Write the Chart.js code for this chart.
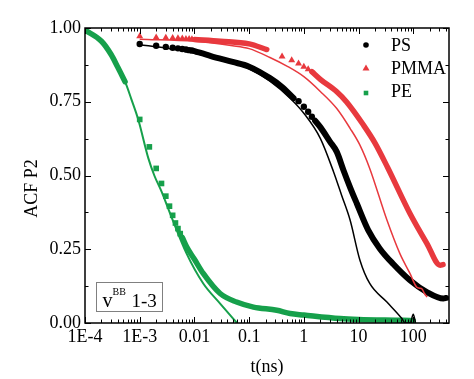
<!DOCTYPE html>
<html><head><meta charset="utf-8">
<script src="https://cdn.jsdelivr.net/npm/chart.js@4/dist/chart.umd.min.js"></script>
<style>html,body{margin:0;padding:0;background:#fff;}canvas{display:block;}</style>
</head><body>
<canvas id="c" width="474" height="379"></canvas>
<script>
// ---------- data ----------
const SERIES = ['PS', 'PMMA', 'PE'];
const X_TICKS = [1e-4, 1e-3, 0.01, 0.1, 1, 10, 100];
const X_TICK_LABELS = ['1E-4', '1E-3', '0.01', '0.1', '1', '10', '100'];
const Y_TICKS = [0, 0.25, 0.5, 0.75, 1];
const Y_TICK_LABELS = ['0.00', '0.25', '0.50', '0.75', '1.00'];
const X_TITLE = 't(ns)';
const Y_TITLE = 'ACF P2';
const INSET_MAIN = 'v';
const INSET_SUP = 'BB';
const INSET_TAIL = '1-3';

// PS (black circles): isolated markers + dense runs + fit
const PS_DOT_T = [0.001, 0.002, 0.003, 0.004, 0.005, 0.006, 0.007, 0.008, 0.009, 0.8, 1.0, 1.2, 1.4];
const PS_DOT_Y = [0.946, 0.940, 0.936, 0.933, 0.931, 0.929, 0.927, 0.925, 0.924, 0.752, 0.733, 0.716, 0.699];
const PS_RUN1_T = [0.01, 0.02, 0.05, 0.1, 0.24, 0.4, 0.65];
const PS_RUN1_Y = [0.922, 0.905, 0.885, 0.869, 0.830, 0.800, 0.762];
const PS_RUN2_T = [1.6, 2, 3, 4, 5.3, 7, 9.3, 15, 24.5, 43, 87, 177, 355, 400];
const PS_RUN2_Y = [0.686, 0.664, 0.615, 0.580, 0.518, 0.460, 0.405, 0.315, 0.252, 0.200, 0.145, 0.105, 0.083, 0.085];
const PS_FIT_T = [0.001, 0.003, 0.01, 0.03, 0.1, 0.24, 0.56, 1, 2, 3.5, 4.9, 7, 10.6, 16, 33, 62, 71, 88, 100, 110];
const PS_FIT_Y = [0.943, 0.932, 0.914, 0.893, 0.862, 0.820, 0.762, 0.711, 0.626, 0.512, 0.433, 0.349, 0.213, 0.134, 0.071, 0.015, 0.0, 0.0, 0.03, 0.0];

// PMMA (red triangles)
const PMMA_DOT_T = [0.001, 0.002, 0.003, 0.004, 0.005, 0.006, 0.007, 0.008, 0.009, 0.4, 0.6, 0.8, 1.0, 1.2];
const PMMA_DOT_Y = [0.972, 0.968, 0.967, 0.966, 0.965, 0.964, 0.963, 0.963, 0.962, 0.903, 0.891, 0.880, 0.869, 0.860];
const PMMA_RUN1_T = [0.01, 0.03, 0.1, 0.21];
const PMMA_RUN1_Y = [0.961, 0.955, 0.946, 0.927];
const PMMA_RUN2_T = [1.4, 2, 4, 6, 12.3, 20, 34, 87, 177, 310, 350];
const PMMA_RUN2_Y = [0.852, 0.826, 0.784, 0.750, 0.671, 0.610, 0.527, 0.371, 0.270, 0.196, 0.198];
const PMMA_FIT_T = [0.001, 0.01, 0.05, 0.1, 0.24, 0.5, 1, 2, 4, 7, 10.6, 16, 33, 57, 87, 115, 130, 145, 160, 180];
const PMMA_FIT_Y = [0.962, 0.955, 0.940, 0.930, 0.900, 0.870, 0.835, 0.785, 0.727, 0.660, 0.603, 0.524, 0.349, 0.235, 0.168, 0.122, 0.118, 0.115, 0.100, 0.088];

// PE (green squares)
const PE_DOT_T = [0.001, 0.0015, 0.002, 0.0025, 0.003, 0.0035, 0.004, 0.0045, 0.005, 0.0055];
const PE_DOT_Y = [0.690, 0.597, 0.524, 0.473, 0.430, 0.396, 0.365, 0.339, 0.320, 0.303];
const PE_RUN1_T = [0.0001, 0.0002, 0.0003, 0.0004, 0.00054];
const PE_RUN1_Y = [0.993, 0.955, 0.910, 0.866, 0.818];
const PE_RUN2_T = [0.006, 0.0072, 0.01, 0.0145, 0.0295, 0.059, 0.12, 0.32, 0.56, 1, 4.6, 10, 64, 100];
const PE_RUN2_Y = [0.290, 0.258, 0.216, 0.168, 0.100, 0.071, 0.054, 0.043, 0.032, 0.027, 0.015, 0.012, 0.009, 0.008];
const PE_FIT_T = [0.0001, 0.0002, 0.0003, 0.0004, 0.00054, 0.0007, 0.00094, 0.00144, 0.00185, 0.0025, 0.0036, 0.0072, 0.0145, 0.0295, 0.051, 0.06];
const PE_FIT_Y = [0.993, 0.955, 0.910, 0.866, 0.818, 0.760, 0.690, 0.558, 0.500, 0.446, 0.371, 0.235, 0.134, 0.066, 0.015, 0.0];

// ---------- styling ----------
const BLACK = '#000000', RED = '#e8393e', GREEN = '#16a04b';
const FONT = "'Liberation Serif', 'Times New Roman', 'DejaVu Serif', serif";

const pts = (T, Y) => T.map((t, i) => ({ x: t, y: Y[i] }));
const runs = (T1, Y1, T2, Y2) => pts(T1, Y1).concat([{ x: T2[0], y: null }], pts(T2, Y2));

function markerSet(label, T, Y, color, style, r) {
  return { label, data: pts(T, Y), showLine: false, pointStyle: style, pointRadius: r,
    pointBackgroundColor: color, pointBorderColor: color, pointBorderWidth: 0, clip: 0, order: 2 };
}
function runSet(label, data, color, w) {
  return { label, data, showLine: true, borderColor: color, borderWidth: w, pointRadius: 0,
    borderCapStyle: 'round', cubicInterpolationMode: 'monotone', spanGaps: false, clip: 0, order: 3 };
}
function fitSet(label, T, Y, color, w) {
  return { label, data: pts(T, Y), showLine: true, borderColor: color, borderWidth: w, pointRadius: 0,
    cubicInterpolationMode: 'monotone', clip: 0, order: 1 };
}

const datasets = [
  runSet(SERIES[0] + ' data', runs(PS_RUN1_T, PS_RUN1_Y, PS_RUN2_T, PS_RUN2_Y), BLACK, 6),
  markerSet(SERIES[0], PS_DOT_T, PS_DOT_Y, BLACK, 'circle', 3.2),
  fitSet(SERIES[0] + ' fit', PS_FIT_T, PS_FIT_Y, BLACK, 1.5),
  runSet(SERIES[1] + ' data', runs(PMMA_RUN1_T, PMMA_RUN1_Y, PMMA_RUN2_T, PMMA_RUN2_Y), RED, 5.5),
  markerSet(SERIES[1], PMMA_DOT_T, PMMA_DOT_Y, RED, 'triangle', 4),
  fitSet(SERIES[1] + ' fit', PMMA_FIT_T, PMMA_FIT_Y, RED, 1.5),
  runSet(SERIES[2] + ' data', runs(PE_RUN1_T, PE_RUN1_Y, PE_RUN2_T, PE_RUN2_Y), GREEN, 5.5),
  markerSet(SERIES[2], PE_DOT_T, PE_DOT_Y, GREEN, 'rect', 4),
  fitSet(SERIES[2] + ' fit', PE_FIT_T, PE_FIT_Y, GREEN, 2)
];

// frame, inward ticks, legend, inset label, y title
const decor = {
  id: 'decor',
  afterDraw(chart) {
    const { ctx, chartArea: a, scales: { x, y } } = chart;
    ctx.save();
    ctx.strokeStyle = '#000';
    ctx.lineWidth = 1;
    ctx.beginPath();
    const MAJ = 6, MIN = 3.5;
    const yv = [];
    Y_TICKS.forEach((v, i) => { yv.push([v, MAJ]); if (i < Y_TICKS.length - 1) yv.push([(v + Y_TICKS[i + 1]) / 2, MIN]); });
    yv.forEach(([v, L]) => {
      const p = Math.round(y.getPixelForValue(v)) + 0.5;
      ctx.moveTo(a.left, p); ctx.lineTo(a.left + L, p);
      ctx.moveTo(a.right, p); ctx.lineTo(a.right - L, p);
    });
    const xv = [];
    X_TICKS.forEach(d => {
      xv.push([d, MAJ]);
      for (let k = 2; k <= 9; k++) if (d * k < x.max) xv.push([d * k, MIN]);
    });
    xv.forEach(([v, L]) => {
      const p = Math.round(x.getPixelForValue(v)) + 0.5;
      ctx.moveTo(p, a.bottom); ctx.lineTo(p, a.bottom - L);
      ctx.moveTo(p, a.top); ctx.lineTo(p, a.top + L);
    });
    ctx.stroke();
    ctx.lineWidth = 1.5;
    ctx.strokeRect(a.left, a.top, a.right - a.left, a.bottom - a.top);

    // legend
    const lx = a.right - 83, tx = a.right - 58;
    const rows = [a.top + 17, a.top + 40, a.top + 63];
    const cols = [BLACK, RED, GREEN];
    ctx.font = '18px ' + FONT;
    ctx.textBaseline = 'middle';
    ctx.textAlign = 'left';
    SERIES.forEach((s, i) => {
      const cy = rows[i];
      ctx.fillStyle = cols[i];
      ctx.beginPath();
      if (i === 0) { ctx.arc(lx, cy, 2.8, 0, Math.PI * 2); }
      else if (i === 1) { ctx.moveTo(lx, cy - 3.5); ctx.lineTo(lx + 3.5, cy + 2.5); ctx.lineTo(lx - 3.5, cy + 2.5); ctx.closePath(); }
      else { ctx.rect(lx - 2.3, cy - 2.3 + 2, 4.6, 4.6); }
      ctx.fill();
      ctx.fillStyle = '#000';
      ctx.fillText(s, tx, cy + 1);
    });

    // inset label box
    const bx = a.left + 11.5, by = a.bottom - 40.5;
    ctx.strokeStyle = '#808080';
    ctx.lineWidth = 1;
    ctx.strokeRect(bx, by, 66, 29);
    ctx.fillStyle = '#000';
    ctx.textBaseline = 'alphabetic';
    ctx.font = '20px ' + FONT;
    ctx.fillText(INSET_MAIN, bx + 6, by + 24);
    ctx.font = '10px ' + FONT;
    ctx.fillText(INSET_SUP, bx + 16, by + 12);
    ctx.font = '19px ' + FONT;
    ctx.fillText(INSET_TAIL, bx + 35, by + 24);

    // y title
    ctx.font = '18px ' + FONT;
    ctx.textAlign = 'center';
    ctx.textBaseline = 'middle';
    ctx.translate(32, (a.top + a.bottom) / 2 + 13);
    ctx.rotate(-Math.PI / 2);
    ctx.fillText(Y_TITLE, 0, 0);
    ctx.restore();
  }
};

new Chart(document.getElementById('c'), {
  type: 'line',
  data: { datasets },
  options: {
    responsive: false,
    animation: false,
    events: [],
    layout: { padding: { top: 28, right: 25, left: 0, bottom: 0 } },
    plugins: { legend: { display: false }, tooltip: { enabled: false } },
    scales: {
      x: {
        type: 'logarithmic', min: 1e-4, max: 450,
        grid: { display: false, drawTicks: false },
        border: { display: false },
        afterBuildTicks: s => { s.ticks = X_TICKS.map(v => ({ value: v, major: true })); },
        ticks: { autoSkip: false, maxRotation: 0, padding: 3, color: '#000',
          font: { family: FONT, size: 18 },
          callback: (v, i) => X_TICK_LABELS[i] },
        title: { display: true, text: X_TITLE, color: '#000', font: { family: FONT, size: 18 }, padding: { top: 0, bottom: 1 } },
        afterFit: s => { s.height = 56; }
      },
      y: {
        min: 0, max: 1,
        grid: { display: false, drawTicks: false },
        border: { display: false },
        afterBuildTicks: s => { s.ticks = Y_TICKS.map(v => ({ value: v })); },
        ticks: { autoSkip: false, padding: 4, color: '#000',
          font: { family: FONT, size: 18 },
          callback: (v, i) => Y_TICK_LABELS[i] },
        afterFit: s => { s.width = 85; }
      }
    }
  },
  plugins: [decor]
});
</script>
</body></html>
